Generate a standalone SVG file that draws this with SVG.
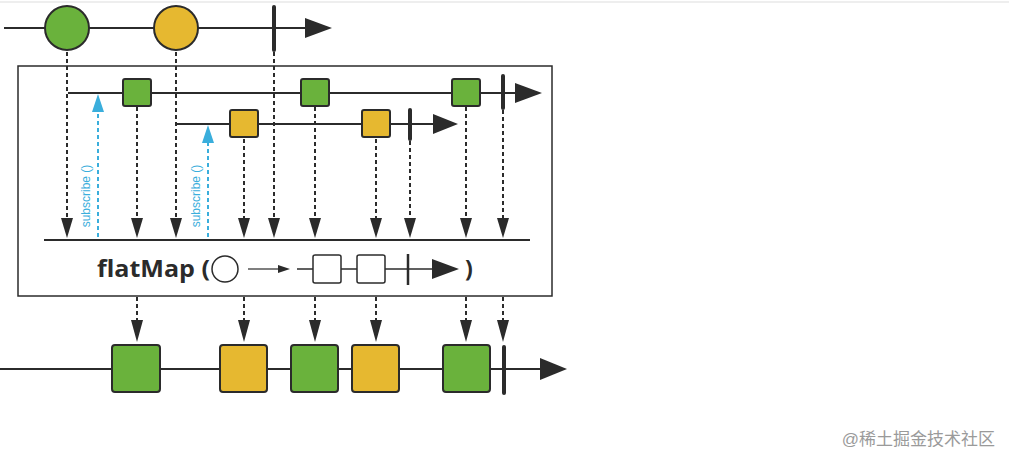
<svg xmlns="http://www.w3.org/2000/svg" width="1009" height="464" viewBox="0 0 1009 464">
<style>
.ln{stroke:#2b2b2b;stroke-width:2;fill:none}
.bar{stroke:#2b2b2b;stroke-width:4;stroke-linecap:round}
.ds{stroke:#2b2b2b;stroke-width:2;stroke-dasharray:4,3;fill:none}
.bl{stroke:#3aaedc;stroke-width:2;stroke-dasharray:4,3;fill:none}
.g{fill:#6ab23c;stroke:#2b2b2b;stroke-width:2}
.y{fill:#e6b830;stroke:#2b2b2b;stroke-width:2}
.w{fill:#fff;stroke:#2b2b2b;stroke-width:1.5}
.ah{fill:#2b2b2b}
.st{font-family:"Liberation Sans",sans-serif;font-size:12px;fill:#3aaedc}
</style>
<rect x="0" y="0" width="1009" height="464" fill="#fff"/>
<line x1="0" y1="2" x2="1009" y2="2" stroke="#ddd"/>
<g id="source">
<line class="ln" x1="4" y1="28" x2="310" y2="28"/>
<polygon class="ah" points="305,18 332,28 305,38"/>
<circle class="g" cx="67" cy="28" r="22"/>
<circle class="y" cx="176" cy="28" r="22"/>
<line class="bar" x1="274" y1="7" x2="274" y2="50"/>
</g>
<g id="box">
<rect x="18" y="66" width="534" height="230" fill="none" stroke="#2b2b2b" stroke-width="1.5"/>
<line class="ln" x1="44" y1="240" x2="530" y2="240"/>
</g>
<g id="inner1">
<line class="ln" x1="68" y1="93" x2="520" y2="93"/>
<polygon class="ah" points="515,83 542,93 515,103"/>
<rect class="g" x="123" y="79" width="28" height="27" rx="2"/>
<rect class="g" x="301" y="79" width="28" height="27" rx="2"/>
<rect class="g" x="452" y="79" width="28" height="27" rx="2"/>
<line class="bar" x1="503" y1="76" x2="503" y2="108"/>
</g>
<g id="inner2">
<line class="ln" x1="176" y1="124" x2="435" y2="124"/>
<polygon class="ah" points="433,114 458,124 433,134"/>
<rect class="y" x="230" y="110" width="28" height="27" rx="2"/>
<rect class="y" x="362" y="110" width="28" height="27" rx="2"/>
<line class="bar" x1="410" y1="110" x2="410" y2="139"/>
</g>
<g id="connectors">
<g class="ds">
<path d="M67 52V220M137 107V220M176 52V220M244 139V220M274 52V220M315 107V220M376 139V220M410 141V220M466 107V220M503 110V220"/>
<path d="M137 297V322M244 297V322M315 297V322M376 297V322M466 297V322M503 297V322"/>
</g>
<g class="ah">
<polygon points="61,218 73,218 67,238"/><polygon points="131,218 143,218 137,238"/><polygon points="170,218 182,218 176,238"/><polygon points="238,218 250,218 244,238"/><polygon points="268,218 280,218 274,238"/><polygon points="309,218 321,218 315,238"/><polygon points="370,218 382,218 376,238"/><polygon points="404,218 416,218 410,238"/><polygon points="460,218 472,218 466,238"/><polygon points="497,218 509,218 503,238"/>
<polygon points="131,320 143,320 137,342"/><polygon points="238,320 250,320 244,342"/><polygon points="309,320 321,320 315,342"/><polygon points="370,320 382,320 376,342"/><polygon points="460,320 472,320 466,342"/><polygon points="497,320 509,320 503,342"/>
</g>
<path class="bl" d="M98 237V112M208 237V143"/>
<polygon fill="#3aaedc" points="92,112 104,112 98,94"/>
<polygon fill="#3aaedc" points="202,143 214,143 208,125"/>
<text class="st" transform="translate(90,196) rotate(-90)" text-anchor="middle">subscribe ()</text>
<text class="st" transform="translate(200,196) rotate(-90)" text-anchor="middle">subscribe ()</text>
</g>
<g id="label">
<text x="97" y="277" textLength="113" lengthAdjust="spacingAndGlyphs" font-family="'Open Sans','Liberation Sans',sans-serif" font-weight="bold" font-size="23" fill="#2b2b2b">flatMap (</text>
<circle cx="225" cy="269" r="13" fill="#fff" stroke="#2b2b2b" stroke-width="1.5"/>
<line x1="248" y1="269" x2="280" y2="269" stroke="#555" stroke-width="1.5"/>
<polygon class="ah" points="278,265 290,269 278,273"/>
<line class="ln" x1="297" y1="269" x2="440" y2="269" style="stroke-width:1.5"/>
<rect class="w" x="313" y="255" width="28" height="28" rx="2"/>
<rect class="w" x="357" y="255" width="28" height="28" rx="2"/>
<line x1="408" y1="254" x2="408" y2="285" stroke="#2b2b2b" stroke-width="2.5"/>
<polygon class="ah" points="432,259 459,269 432,279"/>
<text x="465" y="277" font-family="'Open Sans','Liberation Sans',sans-serif" font-weight="bold" font-size="23" fill="#2b2b2b">)</text>
</g>
<g id="output">
<line class="ln" x1="0" y1="369" x2="545" y2="369"/>
<polygon class="ah" points="540,358 567,369 540,380"/>
<rect class="g" x="112" y="345" width="48" height="47" rx="3"/>
<rect class="y" x="220" y="345" width="47" height="47" rx="3"/>
<rect class="g" x="291" y="345" width="47" height="47" rx="3"/>
<rect class="y" x="352" y="345" width="47" height="47" rx="3"/>
<rect class="g" x="443" y="345" width="47" height="47" rx="3"/>
<line class="bar" x1="504" y1="347" x2="504" y2="393"/>
</g>
<text x="995" y="445" text-anchor="end" font-family="'Liberation Sans','Noto Sans CJK SC',sans-serif" font-size="17" fill="#9a9a9a">@稀土掘金技术社区</text>
</svg>
